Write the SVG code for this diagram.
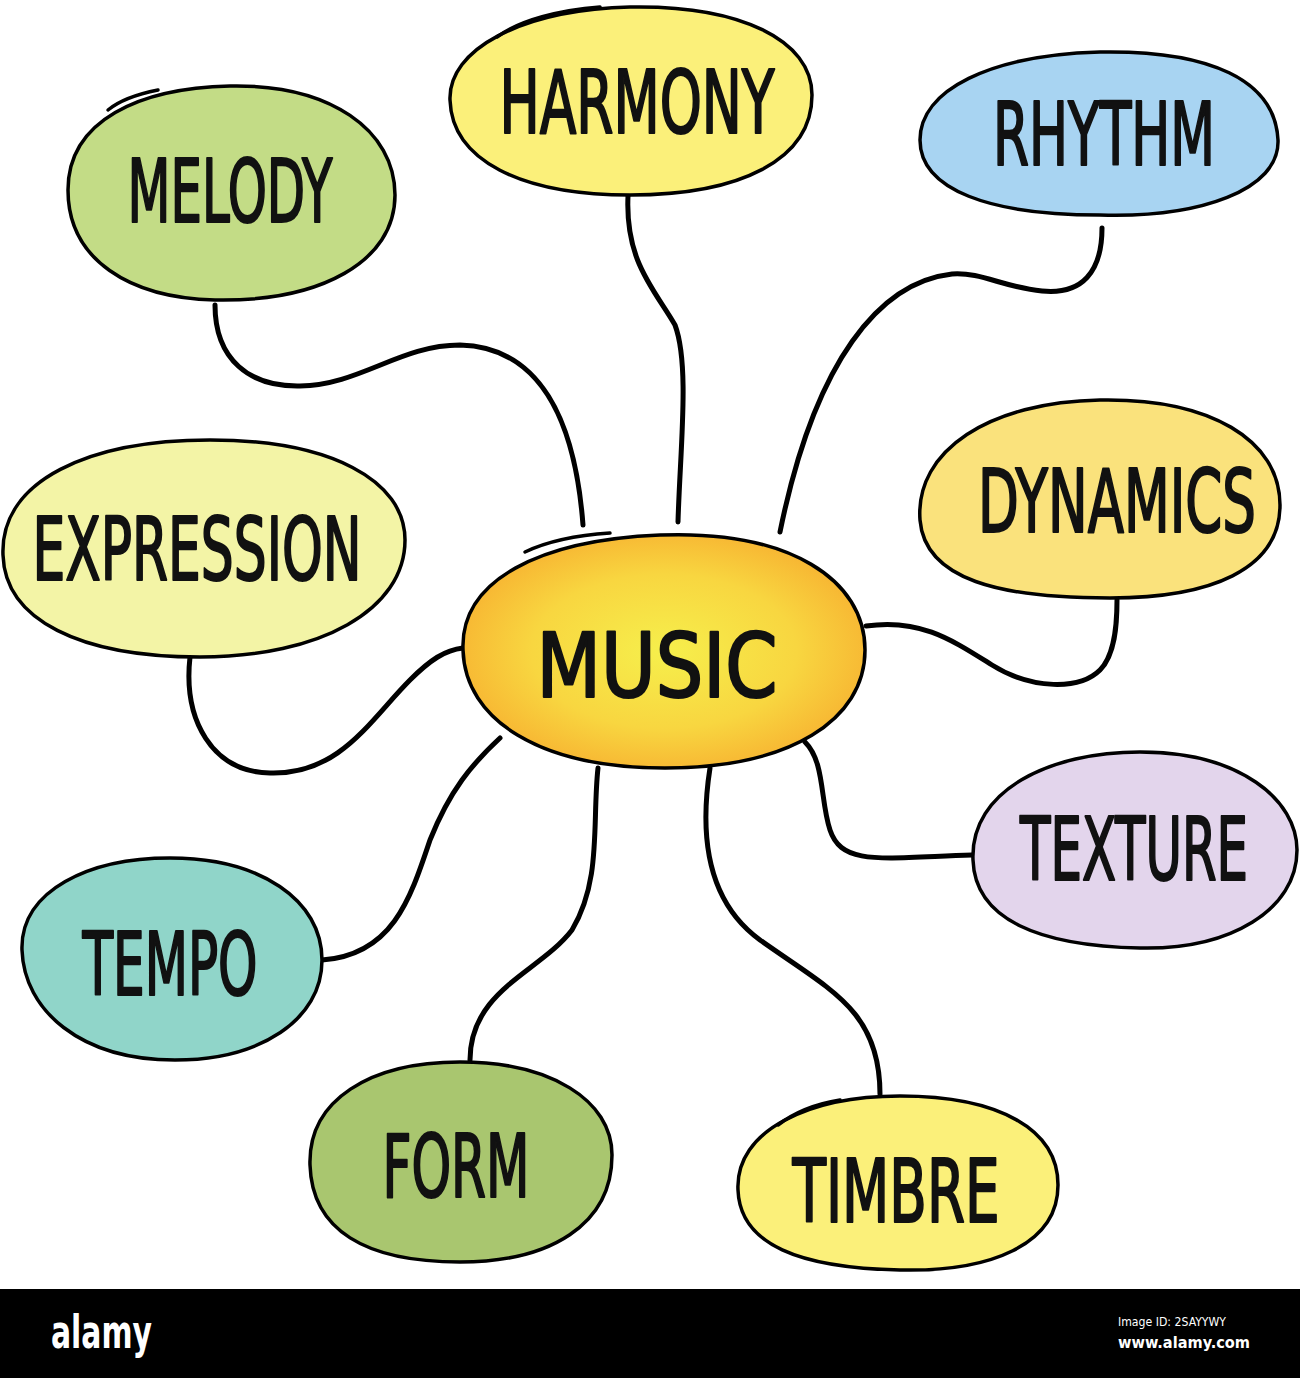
<svg xmlns="http://www.w3.org/2000/svg" width="1300" height="1378" viewBox="0 0 1300 1378">
<style>
.edge{fill:none;stroke:#000;stroke-width:5;stroke-linecap:round;stroke-linejoin:round}
.blob{stroke:#000;stroke-width:3.5;stroke-linejoin:round}
.tick{fill:none;stroke:#000;stroke-width:3.5;stroke-linecap:round}
.lbl{font-family:"Liberation Sans Narrow","DejaVu Sans Condensed","Liberation Sans",sans-serif;font-weight:normal;font-size:64px;fill:#111;stroke:#111;stroke-width:1.6;stroke-linejoin:round;text-anchor:middle}
.wm{font-family:"Liberation Sans Narrow","DejaVu Sans Condensed","Liberation Sans",sans-serif;fill:#fff}
</style>
<defs>
<radialGradient id="gMusic" cx="50%" cy="50%" r="55%">
<stop offset="0" stop-color="#f6ef4c"/>
<stop offset="0.6" stop-color="#f8d640"/>
<stop offset="1" stop-color="#f7b231"/>
</radialGradient>
</defs>
<rect width="1300" height="1378" fill="#fff"/>
<g id="connectors">
<path class="edge" d="M215,305 C215,360 250,387 300,386 C360,385 400,345 460,345 C540,347 575,420 583,525"/>
<path class="edge" d="M628,196 C625,262 655,290 675,325 C690,365 680,450 678,522"/>
<path class="edge" d="M1102,228 C1102,272 1082,295 1042,291 C1002,287 982,272 952,274 C880,282 815,360 780,532"/>
<path class="edge" d="M866,626 C920,618 952,640 992,665 C1032,690 1080,690 1100,670 C1115,655 1117,625 1117,600"/>
<path class="edge" d="M190,657 C183,720 212,772 270,773 C340,775 370,720 410,680 C430,660 445,650 463,648"/>
<path class="edge" d="M805,742 C825,762 820,800 830,830 C842,866 880,858 972,855"/>
<path class="edge" d="M322,960 C392,955 410,900 430,840 C450,790 472,764 500,738"/>
<path class="edge" d="M598,768 C592,822 602,880 572,930 C540,972 470,990 470,1060"/>
<path class="edge" d="M710,768 C700,832 705,900 760,940 C830,990 880,1010 880,1094"/>
</g>
<g id="melody">
<path class="blob" fill="#c3dc86" d="M68,190 C68,120 140,88 230,86 C330,84 395,130 395,195 C395,262 320,302 215,300 C130,298 68,260 68,190 Z"/>
<path class="tick" d="M108,110 C120,100 138,94 158,90"/>
<text class="lbl" transform="translate(230,222) scale(1,1.37)" textLength="205" lengthAdjust="spacingAndGlyphs">MELODY</text>
</g>
<g id="harmony">
<path class="blob" fill="#fbf07a" d="M450,100 C448,50 520,10 630,7 C740,5 812,40 812,95 C812,160 740,195 630,195 C520,195 452,160 450,100 Z"/>
<path class="tick" d="M497,37 C520,20 560,10 600,7"/>
<text class="lbl" transform="translate(637,133) scale(1,1.37)" textLength="275" lengthAdjust="spacingAndGlyphs">HARMONY</text>
</g>
<g id="rhythm">
<path class="blob" fill="#a8d4f2" d="M920,140 C920,90 990,55 1100,52 C1210,50 1275,80 1278,140 C1280,190 1200,218 1100,215 C990,215 920,190 920,140 Z"/>
<text class="lbl" transform="translate(1104,165) scale(1,1.37)" textLength="222" lengthAdjust="spacingAndGlyphs">RHYTHM</text>
</g>
<g id="dynamics">
<path class="blob" fill="#fae27c" d="M920,520 C915,450 990,402 1100,400 C1210,398 1280,440 1280,505 C1280,570 1210,598 1110,598 C1000,598 925,580 920,520 Z"/>
<text class="lbl" transform="translate(1117,532) scale(1,1.37)" textLength="278" lengthAdjust="spacingAndGlyphs">DYNAMICS</text>
</g>
<g id="expression">
<path class="blob" fill="#f3f4a6" d="M3,555 C0,480 90,440 210,440 C330,440 405,480 405,540 C405,610 320,657 200,657 C80,657 5,620 3,555 Z"/>
<text class="lbl" transform="translate(197,580) scale(1,1.37)" textLength="329" lengthAdjust="spacingAndGlyphs">EXPRESSION</text>
</g>
<g id="music">
<path class="blob" fill="url(#gMusic)" stroke-width="6" d="M463,650 C460,580 540,540 660,535 C790,530 865,580 865,650 C865,720 790,768 665,768 C540,768 465,720 463,650 Z"/>
<path class="tick" stroke-width="6" d="M525,552 C550,540 580,535 610,533"/>
<text class="lbl" transform="translate(657,697) scale(1,1.4)" font-size="95" stroke-width="2.4" textLength="241" lengthAdjust="spacingAndGlyphs">MUSIC</text>
</g>
<g id="texture">
<path class="blob" fill="#e3d5ec" d="M973,860 C970,790 1050,752 1140,752 C1240,752 1297,800 1297,850 C1297,910 1230,950 1140,948 C1040,946 975,920 973,860 Z"/>
<text class="lbl" transform="translate(1134,880) scale(1,1.37)" textLength="228" lengthAdjust="spacingAndGlyphs">TEXTURE</text>
</g>
<g id="tempo">
<path class="blob" fill="#90d5c9" d="M22,950 C20,890 90,858 170,858 C260,858 322,900 322,960 C322,1020 260,1060 175,1060 C80,1060 24,1010 22,950 Z"/>
<text class="lbl" transform="translate(170,995) scale(1,1.37)" textLength="175" lengthAdjust="spacingAndGlyphs">TEMPO</text>
</g>
<g id="form">
<path class="blob" fill="#a9c66f" d="M310,1165 C308,1100 370,1062 460,1062 C550,1062 612,1100 612,1155 C612,1225 550,1262 460,1262 C365,1262 312,1230 310,1165 Z"/>
<text class="lbl" transform="translate(456,1197) scale(1,1.37)" textLength="147" lengthAdjust="spacingAndGlyphs">FORM</text>
</g>
<g id="timbre">
<path class="blob" fill="#fbf07a" d="M738,1190 C735,1130 810,1096 900,1096 C1000,1096 1058,1130 1058,1185 C1058,1245 990,1272 900,1270 C800,1268 740,1245 738,1190 Z"/>
<path class="tick" d="M778,1125 C795,1112 815,1104 840,1100"/>
<text class="lbl" transform="translate(896,1222) scale(1,1.37)" textLength="207" lengthAdjust="spacingAndGlyphs">TIMBRE</text>
</g>
<g id="footer">
<rect x="0" y="1289" width="1300" height="89" fill="#000"/>
<text class="wm" x="51" y="1348" font-size="46" font-weight="bold" textLength="101" lengthAdjust="spacingAndGlyphs">alamy</text>
<text class="wm" x="1118" y="1326" font-size="13" textLength="108" lengthAdjust="spacingAndGlyphs">Image ID: 2SAYYWY</text>
<text class="wm" x="1118" y="1348" font-size="15" font-weight="bold" textLength="132" lengthAdjust="spacingAndGlyphs">www.alamy.com</text>
</g>
</svg>
